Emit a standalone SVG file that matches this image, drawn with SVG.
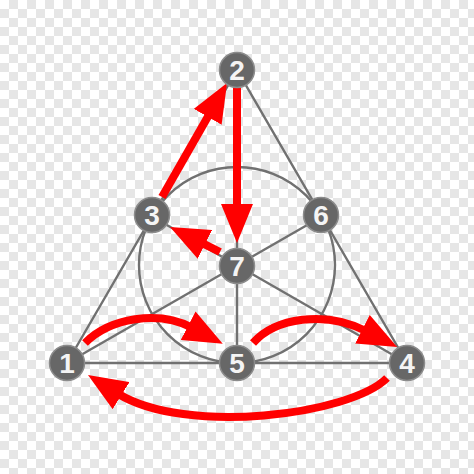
<svg xmlns="http://www.w3.org/2000/svg" width="474" height="474" viewBox="0 0 474 474">
  <defs>
    <pattern id="checker" x="0" y="0" width="18" height="18" patternUnits="userSpaceOnUse">
      <rect width="18" height="18" fill="#ffffff"/>
      <rect x="9" y="0" width="9" height="9" fill="#e6e6e6"/>
      <rect x="0" y="9" width="9" height="9" fill="#e6e6e6"/>
    </pattern>
    <marker id="head" markerUnits="userSpaceOnUse" markerWidth="39" markerHeight="32" refX="4" refY="16" orient="auto" viewBox="0 0 39 32">
      <path d="M0,0 L39,16 L0,32 z" fill="#ff0000"/>
    </marker>
  </defs>
  <style>
    .edge { fill: none; stroke: #717171; stroke-width: 2.4; }
    .arrow { fill: none; stroke: #ff0000; stroke-width: 8; marker-end: url(#head); }
    .node circle { fill: #676767; stroke: #8c8c8c; stroke-width: 1.5; }
    .node text { fill: #f4f4f4; font-family: "Liberation Sans", Arial, sans-serif; font-weight: bold; font-size: 28px; text-anchor: middle; }
  </style>
  <rect width="474" height="474" fill="url(#checker)"/>
  <g id="connectors">
    <path class="edge" d="M67,363 L237,70 L407,363 Z"/>
    <line class="edge" x1="67" y1="363" x2="322" y2="216.5"/>
    <line class="edge" x1="407" y1="363" x2="152" y2="216.5"/>
    <line class="edge" x1="237" y1="70" x2="237" y2="363"/>
    <circle class="edge" cx="237" cy="265" r="98"/>
    <path class="arrow" d="M162,197 L209.7,113.4"/>
    <path class="arrow" d="M237,88 L237,208"/>
    <path class="arrow" d="M220,252 L201.3,242.6"/>
    <path class="arrow" d="M85,343 C110,318 158,310 191.7,327.5"/>
    <path class="arrow" d="M253,343 C275,318 325,310 366,331"/>
    <path class="arrow" d="M387,378 C350,415 185.6,435.7 117.7,393.5"/>
  </g>
  <g id="node1" class="node"><circle cx="67" cy="363" r="17.5"/><text x="67" y="373">1</text></g>
  <g id="node2" class="node"><circle cx="237" cy="70" r="17.5"/><text x="237" y="80">2</text></g>
  <g id="node3" class="node"><circle cx="152" cy="215" r="17.5"/><text x="152" y="225">3</text></g>
  <g id="node4" class="node"><circle cx="407" cy="363" r="17.5"/><text x="407" y="373">4</text></g>
  <g id="node5" class="node"><circle cx="237" cy="363" r="17.5"/><text x="237" y="373">5</text></g>
  <g id="node6" class="node"><circle cx="321" cy="215" r="17.5"/><text x="321" y="225">6</text></g>
  <g id="node7" class="node"><circle cx="237" cy="266" r="17.5"/><text x="237" y="276">7</text></g>
</svg>
